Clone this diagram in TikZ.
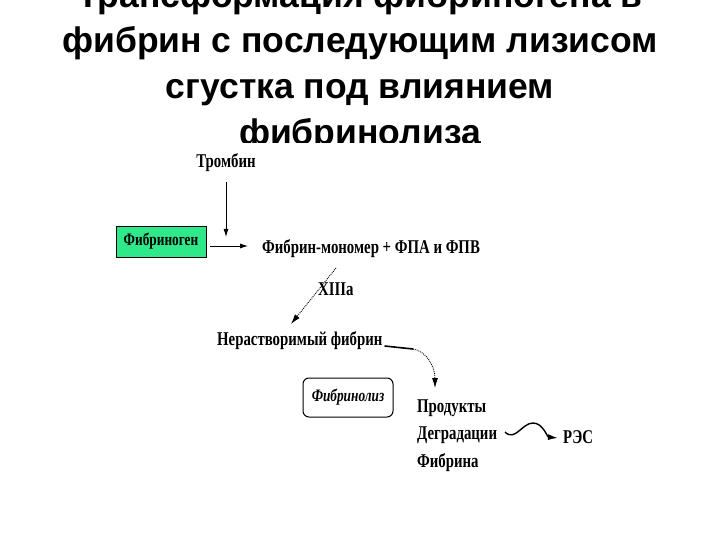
\documentclass[tikz,border=0pt]{standalone}
\usepackage{fontspec}
\setmainfont{Liberation Sans}
\newfontfamily\diagfont[FakeStretch=0.76]{Liberation Serif}
\usetikzlibrary{arrows.meta}
\definecolor{fbggreen}{RGB}{46,232,138}

\begin{document}
\begin{tikzpicture}[x=1pt, y=-1pt,
      ttl/.style={
        font=\bfseries\fontsize{35.5}{35.5}\selectfont,
        inner sep=0pt, anchor=base
      },
      lbl/.style={
        font=\diagfont\bfseries\fontsize{19.5}{19.5}\selectfont,
        inner sep=0pt, anchor=base west
      },
      gbox/.style={
        draw, fill=fbggreen, inner sep=0pt,
        minimum width=90pt, minimum height=31pt,
        font=\diagfont\bfseries\fontsize{17.5}{17.5}\selectfont
      },
      rbox/.style={
        draw, line width=1pt, rounded corners=6pt, inner sep=0pt,
        minimum width=90pt, minimum height=39pt,
        font=\diagfont\bfseries\itshape\fontsize{17.5}{17.5}\selectfont
      },
      arr/.style={-{Latex[length=8pt,width=5pt]}, line width=0.8pt},
      dotarr/.style={-{Latex[length=10pt,width=6pt]}, line width=0.9pt, densely dotted}
    ]
      \useasboundingbox (0,0) rectangle (720,540);

      % title, cut at top and bottom
      \begin{scope}
        \clip (0,0) rectangle (720,143);
        \foreach \ln/\y in {Трансформация фибриногена в/8,
                            фибрин с последующим лизисом/53,
                            сгустка под влиянием/99,
                            фибринолиза/145} {
          \node[ttl] at (360,\y){\ln};
        }
      \end{scope}

      \node[lbl, anchor=base] (trb) at (226,168){Тромбин};
      \node[gbox] (fbg) at (161,241.5){Фибриноген};
      \node[lbl] (mono) at (262,253){Фибрин-мономер + ФПА и ФПВ};
      \node[lbl] (f13) at (318,295){XIIIa};
      \node[lbl] (ins) at (217,345){Нерастворимый фибрин};
      \node[rbox] (fbl) at (348,397.5){Фибринолиз};
      \node[lbl] (prod) at (417,412){Продукты};
      \node[lbl] (deg) at (417,439){Деградации};
      \node[lbl] (fbn) at (417,467){Фибрина};
      \node[lbl] (res) at (563,443){РЭС};

      \coordinate (join) at (248,246);
      \coordinate (xa) at (336,268);
      \coordinate (xb) at (291,324);
      \coordinate (bend) at (413,349);
      \coordinate (dgp) at (435,388);
      \coordinate (w1) at (505,432);
      \coordinate (w2) at (558,438);

      \draw[arr, shorten <=10pt] (trb.south) -- (trb.south |- 0,237);
      \draw[arr, shorten <=4pt] (fbg.east |- join) -- (join);
      \draw[dotarr] (xa) -- (xb);
      \draw[line width=1.6pt] ([xshift=2pt, yshift=-1pt]ins.base east) -- (bend);
      \draw[dotarr] (bend) .. controls (426,351) and (435,366) .. (dgp);
      \draw[-{Latex[length=10pt,width=6pt]}, line width=1.4pt] (w1)
        .. controls (515,442) and (522,423) .. (533,423)
        .. controls (543,423) and (547,437) .. (w2);
    \end{tikzpicture}
\end{document}
